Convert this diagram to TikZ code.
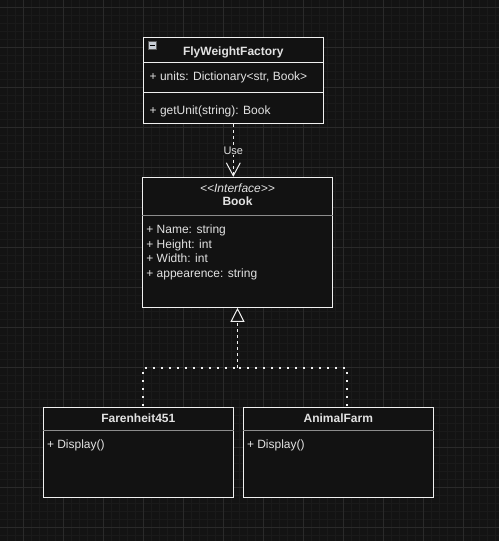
\documentclass[tikz,border=0pt]{standalone}
\usepackage{fontspec}
\setmainfont{Liberation Sans}
\usetikzlibrary{arrows.meta,calc}
\definecolor{bgc}{HTML}{131313}
\definecolor{minorc}{HTML}{1A1A1A}
\definecolor{majorc}{HTML}{2A2A2A}
\definecolor{boxfill}{HTML}{121212}
\definecolor{edgec}{HTML}{F0F0F0}
\definecolor{divc}{HTML}{8C8C8C}
\definecolor{txtc}{HTML}{E2E2E2}
\definecolor{iconc}{HTML}{C8CDD5}
\begin{document}
\begin{tikzpicture}[x=1pt,y=-1pt,
  umlbox/.style={draw=edgec, fill=boxfill, line width=1pt, inner sep=0pt},
  divwhite/.style={draw=edgec, line width=1pt},
  divgrey/.style={draw=divc, line width=1pt},
  txt/.style={text=txtc, inner sep=0pt, anchor=base west, font=\fontsize{12}{14.4}\selectfont},
  ttl/.style={text=txtc, inner sep=0pt, anchor=base, font=\fontsize{12}{14.4}\selectfont\bfseries},
  stereo/.style={text=txtc, inner sep=0pt, anchor=base, font=\fontsize{12}{14.4}\selectfont\itshape},
  dashline/.style={draw=edgec, line width=1pt, dash pattern=on 3pt off 3pt},
  dotline/.style={draw=edgec, line width=2pt, dash pattern=on 2pt off 6pt},
  uselabel/.style={text=txtc, fill=bgc, inner sep=1pt, font=\fontsize{11}{13}\selectfont},
  minorgrid/.style={draw=minorc, line width=1pt},
  majorgrid/.style={draw=majorc, line width=1pt}]
\fill[bgc] (0,0) rectangle (499,541);
\useasboundingbox (0,0) rectangle (499,541);
% grid
\foreach \x in {7,15,...,495} \draw[minorgrid] (\x,0) -- (\x,541);
\foreach \y in {7,15,...,535} \draw[minorgrid] (0,\y) -- (499,\y);
\foreach \x in {23,63,...,463} \draw[majorgrid] (\x,0) -- (\x,541);
\foreach \y in {7,47,...,527} \draw[majorgrid] (0,\y) -- (499,\y);

% FlyWeightFactory
\node[umlbox, minimum width=180pt, minimum height=86pt] (fac) at (233.3,80.3) {};
\draw[divwhite] ($(fac.north west)+(0,26)$) -- ($(fac.north east)+(0,26)$);
\draw[divwhite] ($(fac.north west)+(0,56)$) -- ($(fac.north east)+(0,56)$);
\node[draw=gray!70!black, fill=iconc, line width=0.8pt, minimum size=8pt, inner sep=0pt] (col) at (152.5,45.5) {};
\draw[black, line width=1.3pt] ($(col.center)+(-2.6,0)$) -- ($(col.center)+(2.6,0)$);
\node[ttl] (facname) at (233.3,55) {FlyWeightFactory};
\node[txt] (facattr) at (149.5,80.6) {+ units: Dictionary<str, Book>};
\node[txt] (facop) at (149.5,114) {+ getUnit(string): Book};

% Book
\node[umlbox, minimum width=190.4pt, minimum height=130pt] (book) at (237.5,242.3) {};
\draw[divgrey] ($(book.north west)+(0,38.7)$) -- ($(book.north east)+(0,38.7)$);
\node[stereo] (bookst) at (237.5,192) {{<}{<}Interface{>}{>}};
\node[ttl] (bookname) at (237.5,205.6) {Book};
\node[txt] (b1) at (146.2,233.8) {+ Name: string};
\node[txt] (b2) at (146.2,248.2) {+ Height: int};
\node[txt] (b3) at (146.2,262.6) {+ Width: int};
\node[txt] (b4) at (146.2,277) {+ appearence: string};

% Farenheit451
\node[umlbox, minimum width=190pt, minimum height=90pt] (f451) at (138.3,452.3) {};
\draw[divgrey] ($(f451.north west)+(0,24)$) -- ($(f451.north east)+(0,24)$);
\node[ttl] (f451name) at (138.3,422) {Farenheit451};
\node[txt] (f451op) at (46.8,448.6) {+ Display()};

% AnimalFarm
\node[umlbox, minimum width=190pt, minimum height=90pt] (af) at (338.3,452.3) {};
\draw[divgrey] ($(af.north west)+(0,24)$) -- ($(af.north east)+(0,24)$);
\node[ttl] (afname) at (338.3,422) {AnimalFarm};
\node[txt] (afop) at (246.8,448.6) {+ Display()};

% Use dependency
\draw[dashline, -{Straight Barb[length=13pt,width=14pt,line width=1pt]}]
  (fac.south) -- (fac.south |- book.north) node[midway, uselabel] (uselbl) {Use};

% Realization
\path (book.south) ++(0,59.7) coordinate (j);
\draw[dotline] ($(f451.north west)+(100,-1)$) |- (j);
\draw[dotline] ($(af.north west)+(104,-1)$) |- (j);
\draw[dashline, -{Triangle[open,length=14pt,width=14pt,line width=1pt]}] (j) -- (book.south);
\end{tikzpicture}
\end{document}
